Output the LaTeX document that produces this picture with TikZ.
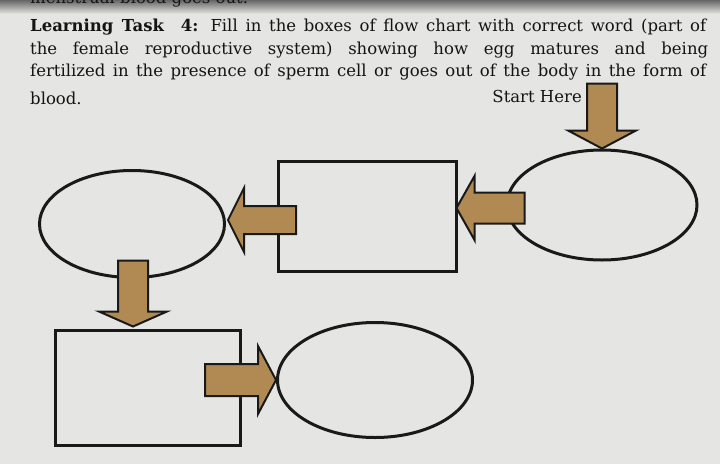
\documentclass[tikz,border=0pt]{standalone}
\usepackage{fontspec}
\setmainfont{DejaVu Serif}
\usetikzlibrary{calc,shapes.geometric}
\definecolor{paper}{HTML}{E5E5E3}
\definecolor{arrowfill}{HTML}{B08A52}
\begin{document}
\begin{tikzpicture}[x=1pt,y=-1pt,
  shapeline/.style={draw=black!90, line width=3pt, fill=paper},
  oval/.style={shapeline, ellipse, inner sep=0pt},
  box/.style={shapeline, rectangle, inner sep=0pt},
  barrow/.style={draw=black!90, line width=2pt, fill=arrowfill, line join=miter},
  txt/.style={inner sep=0pt, font=\fontsize{16.5}{19}\selectfont, text=black!92}]
\fill[paper] (0,0) rectangle (720,464);
\useasboundingbox (0,0) rectangle (720,464);
\shade[top color=black!60, bottom color=paper] (0,0) rectangle (720,14);

% text
\node[txt, anchor=base west] (L0) at (30,3) {menstrual blood goes out.};
\node[txt, anchor=base west] (L1) at (30,31) {\makebox[676pt][s]{\textbf{Learning Task\ \ 4:} Fill in the boxes of flow chart with correct word (part of}};
\node[txt, anchor=base west] (L2) at (30,54) {\makebox[678pt][s]{the female reproductive system) showing how egg matures and being}};
\node[txt, anchor=base west] (L3) at (30,76) {\makebox[676pt][s]{fertilized in the presence of sperm cell or goes out of the body in the form of}};
\node[txt, anchor=base west] (L4) at (30,104) {blood.};
\node[txt, anchor=base east] (start) at (582,102) {Start Here};

% shapes
\node[oval, minimum width=190pt, minimum height=110pt] (E1) at (602,205) {};
\node[box, minimum width=178pt, minimum height=110pt] (R1) at (367,216) {};
\node[oval, minimum width=185pt, minimum height=107pt] (E2) at (132,224) {};
\node[box, minimum width=185pt, minimum height=115pt] (R2) at (147.5,387.5) {};
\node[oval, minimum width=195pt, minimum height=115pt] (E3) at (375,380) {};

% block arrows
\draw[barrow] (E1.north) -- ++(-34,-18) -- ++(19,0) -- ++(0,-47) -- ++(30,0) -- ++(0,47) -- ++(19,0) -- cycle;
\draw[barrow] ($(R1.east)+(-1,-8)$) -- ++(18,-32) -- ++(0,16.5) -- ++(50,0) -- ++(0,31) -- ++(-50,0) -- ++(0,16.5) -- cycle;
\draw[barrow] ($(E2.east)+(2,-4)$) -- ++(16,-32) -- ++(0,18) -- ++(52,0) -- ++(0,28) -- ++(-52,0) -- ++(0,18) -- cycle;
\draw[barrow] ($(E2.south |- R2.north)+(1,-2)$) -- ++(-34,-15) -- ++(19,0) -- ++(0,-51) -- ++(30,0) -- ++(0,51) -- ++(19,0) -- cycle;
\draw[barrow] (E3.west) -- ++(-18,-34) -- ++(0,18) -- ++(-53,0) -- ++(0,32) -- ++(53,0) -- ++(0,18) -- cycle;
\end{tikzpicture}
\end{document}
